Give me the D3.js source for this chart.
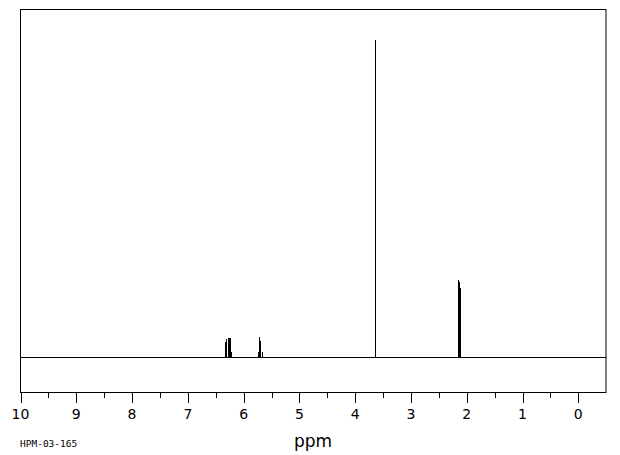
<!DOCTYPE html>
<html><head><meta charset="utf-8">
<script src="https://cdn.jsdelivr.net/npm/d3@7"></script>
<style>body{margin:0;background:#fff}svg{display:block}</style>
</head><body><svg id="c" width="620" height="455"></svg>
<script>
// Stick data (ppm, relative intensity; tallest = 100)
const peakPpm = [6.33, 6.31, 6.30, 6.28, 6.26, 6.24, 6.22,
                 5.74, 5.72, 5.71, 5.69, 5.67,
                 3.643,
                 2.156, 2.138, 2.120];
const peakInt = [4.9, 5.7, 5.4, 6.2, 6.0, 6.1, 1.6,
                 1.7, 6.5, 1.2, 5.2, 1.7,
                 100,
                 24.4, 23.8, 22.0];
const tickLabels = ["10","9","8","7","6","5","4","3","2","1","0"];
const xLabel = "ppm";
const sampleId = "HPM-03-165";

const svg = d3.select("#c");
const L = 20.5, R = 606, T = 9.5, B = 392.5;
const x = d3.scaleLinear().domain([10, -0.5]).range([L, 20.3 + 55.8 * 10.5]);
const y = d3.scaleLinear().domain([0, 100]).range([357.5, 40]);

// frame
svg.append("rect").attr("x", L).attr("y", T).attr("width", R - L).attr("height", B - T)
  .attr("fill", "none").attr("stroke", "#000").attr("stroke-width", 1);

// spectrum line: baseline with sticks
const pts = [[10, 0]];
peakPpm.forEach((p, i) => { pts.push([p, 0]); pts.push([p, peakInt[i]]); pts.push([p, 0]); });
pts.push([-0.5, 0]);
svg.append("path")
  .attr("d", d3.line().x(d => x(d[0])).y(d => y(d[1]))(pts))
  .attr("fill", "none").attr("stroke", "#000").attr("stroke-width", 1)
  .attr("shape-rendering", "crispEdges");

// axis
const major = d3.range(10, -0.01, -1);
const minor = d3.range(9.5, 0, -1);
const ax = svg.append("g").attr("transform", `translate(0,${B})`);
ax.selectAll("line.maj").data(major).join("line")
  .attr("x1", d => Math.round(x(d)) + 0.5).attr("x2", d => Math.round(x(d)) + 0.5)
  .attr("y1", 0).attr("y2", 10.5).attr("stroke", "#000");
ax.selectAll("line.min").data(minor).join("line")
  .attr("x1", d => Math.round(x(d)) + 0.5).attr("x2", d => Math.round(x(d)) + 0.5)
  .attr("y1", 0).attr("y2", 5.5).attr("stroke", "#000");
ax.selectAll("text").data(major).join("text")
  .attr("x", d => x(d)).attr("y", 26.5)
  .attr("text-anchor", "middle")
  .attr("font-family", "DejaVu Sans, sans-serif").attr("font-size", 14)
  .text((d, i) => tickLabels[i]);

svg.append("text").attr("x", 313).attr("y", 447).attr("text-anchor", "middle")
  .attr("font-family", "DejaVu Sans, sans-serif").attr("font-size", 17).text(xLabel);
svg.append("text").attr("x", 20).attr("y", 447)
  .attr("font-family", "DejaVu Sans Mono, monospace").attr("font-size", 9.5).text(sampleId);
</script></body></html>
